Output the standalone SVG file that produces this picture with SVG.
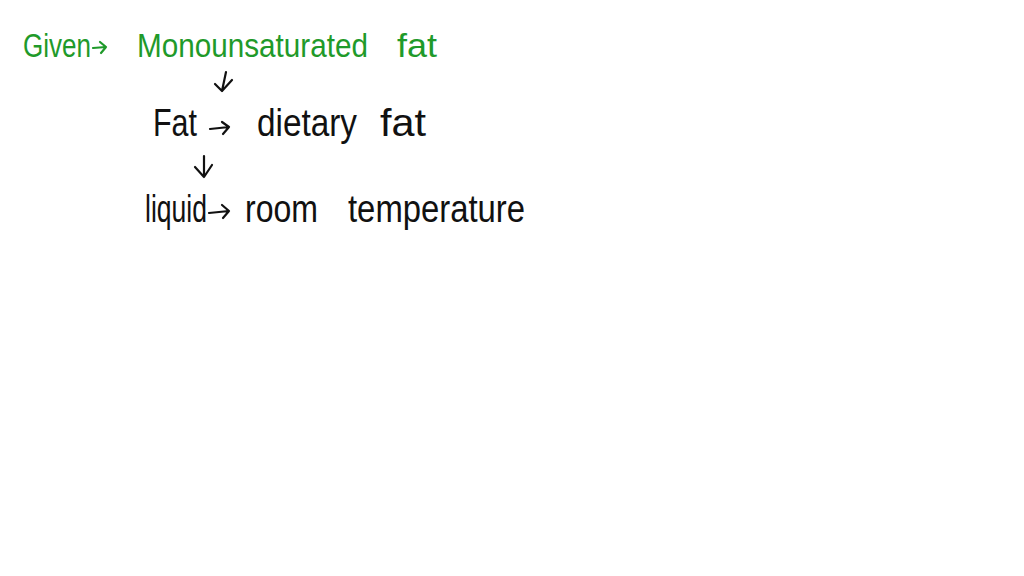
<svg xmlns="http://www.w3.org/2000/svg" width="1024" height="576" viewBox="0 0 1024 576">
<style>
.t{font-family:"Liberation Sans","DejaVu Sans",sans-serif;font-size:38px}
.g{fill:#1f9a2a;font-size:33px}
.k{fill:#111}
.a{fill:none;stroke-width:2.2;stroke-linecap:round;stroke-linejoin:round}
.ag{stroke:#1f9a2a}
.ak{stroke:#111}
</style>
<rect width="1024" height="576" fill="#fff"/>
<g id="given"><text class="t g" x="23" y="57" textLength="68" lengthAdjust="spacingAndGlyphs">Given</text></g>
<g id="monounsaturated-fat">
<text class="t g" x="137" y="57" textLength="231" lengthAdjust="spacingAndGlyphs">Monounsaturated</text>
<text class="t g" x="397" y="57" font-size="37" textLength="40" lengthAdjust="spacingAndGlyphs">fat</text>
</g>
<g id="fat"><text class="t k" x="153" y="136" font-size="41" textLength="44" lengthAdjust="spacingAndGlyphs">Fat</text></g>
<g id="dietary-fat">
<text class="t k" x="257" y="136" font-size="40" textLength="100" lengthAdjust="spacingAndGlyphs">dietary</text>
<text class="t k" x="380" y="136" font-size="40" textLength="46" lengthAdjust="spacingAndGlyphs">fat</text>
</g>
<g id="liquid"><text class="t k" x="145" y="222" textLength="62" lengthAdjust="spacingAndGlyphs">liquid</text></g>
<g id="room-temperature">
<text class="t k" x="245" y="222" textLength="73" lengthAdjust="spacingAndGlyphs">room</text>
<text class="t k" x="348" y="222" textLength="177" lengthAdjust="spacingAndGlyphs">temperature</text>
</g>
<g id="connectors">
<path class="a ag" d="M93 48 L106 47 M100 42 L106 47 L101 53"/>
<path class="a ak" d="M226 72 L222 91 M215 84 L222 91 L232 80"/>
<path class="a ak" d="M210 129 L229 127 M222 122 L229 127 L223 134"/>
<path class="a ak" d="M204 156 L204 177 M195 167 L204 177 L212 165"/>
<path class="a ak" d="M209 213 L229 211 M222 205 L229 211 L223 218"/>
</g>
</svg>
